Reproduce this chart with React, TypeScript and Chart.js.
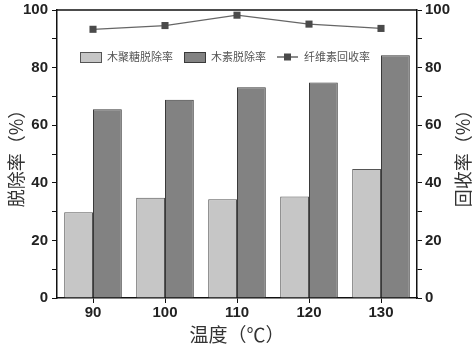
import React, { useEffect, useRef } from "react";
import { Chart, registerables } from "chart.js";

Chart.register(...registerables);

const categories = ["90", "100", "110", "120", "130"];
const xylanRemoval = [29.8, 34.8, 34.3, 35.2, 44.8];
const ligninRemoval = [65.5, 68.8, 73.2, 74.8, 84.3];
const celluloseRecovery = [93.3, 94.6, 98.2, 95.1, 93.6];
const seriesLabels = ["木聚糖脱除率", "木素脱除率", "纤维素回收率"];
const leftTitle = "脱除率（%）";
const rightTitle = "回收率（%）";
const xTitle = "温度（℃）";

const CJK = '"Noto Sans CJK SC", sans-serif';
const NUM = '"Liberation Sans", Arial, sans-serif';

const framePlugin = {
  id: "frame",
  afterDraw(chart: any) {
    const { ctx, chartArea } = chart;
    ctx.save();
    ctx.strokeStyle = "#111";
    ctx.lineWidth = 1.5;
    ctx.beginPath();
    ctx.moveTo(chartArea.left, chartArea.top);
    ctx.lineTo(chartArea.right, chartArea.top);
    ctx.stroke();
    // right title, reading bottom to top
    ctx.fillStyle = "#333";
    ctx.font = `18px ${CJK}`;
    ctx.textAlign = "center";
    ctx.textBaseline = "middle";
    ctx.translate(463, (chartArea.top + chartArea.bottom) / 2);
    ctx.rotate(-Math.PI / 2);
    ctx.fillText(rightTitle, 0, 0);
    ctx.restore();

    // legend inside chart area
    ctx.save();
    const ds = chart.data.datasets;
    const y = chartArea.top + 47;
    ctx.font = `11px ${CJK}`;
    ctx.textBaseline = "middle";
    ctx.textAlign = "left";
    let x = chartArea.left + 23;
    for (let i = 0; i < 3; i++) {
      const d = ds[i];
      if (d.type === "line") {
        ctx.strokeStyle = d.borderColor;
        ctx.lineWidth = 1.5;
        ctx.beginPath();
        ctx.moveTo(x, y);
        ctx.lineTo(x + 21, y);
        ctx.stroke();
        ctx.fillStyle = d.pointBackgroundColor;
        ctx.fillRect(x + 10.5 - 3.5, y - 3.5, 7, 7);
      } else {
        ctx.fillStyle = d.backgroundColor;
        ctx.fillRect(x, y - 5, 21, 10);
        ctx.strokeStyle = d.borderColor;
        ctx.lineWidth = 1;
        ctx.strokeRect(x + 0.5, y - 5 + 0.5, 21, 10);
      }
      ctx.fillStyle = "#555";
      ctx.fillText(d.label, x + 27, y);
      x += 27 + ctx.measureText(d.label).width + 11;
    }
    ctx.restore();
  },
};

export default function App() {
  const ref = useRef<HTMLCanvasElement>(null);
  useEffect(() => {
    document.body.style.margin = "0";
    const tickCallback = (v: any) => (Number(v) % 20 === 0 ? String(v) : "");
    const tickFont = { family: NUM, size: 15, weight: "bold" };
    const chart = new Chart(ref.current!, {
      type: "bar",
      data: {
        labels: categories,
        datasets: [
          {
            type: "bar",
            label: seriesLabels[0],
            data: xylanRemoval,
            backgroundColor: "#c6c6c6",
            borderColor: "#555",
            borderWidth: 1,
            yAxisID: "y",
            order: 2,
          },
          {
            type: "bar",
            label: seriesLabels[1],
            data: ligninRemoval,
            backgroundColor: "#828282",
            borderColor: "#3a3a3a",
            borderWidth: 1,
            yAxisID: "y",
            order: 2,
          },
          {
            type: "line",
            label: seriesLabels[2],
            data: celluloseRecovery,
            borderColor: "#666",
            borderWidth: 1.2,
            pointStyle: "rect",
            pointRadius: 5,
            pointBackgroundColor: "#4a4a4a",
            pointBorderColor: "#4a4a4a",
            pointBorderWidth: 0,
            yAxisID: "y2",
            order: 1,
          } as any,
        ],
      },
      options: {
        animation: false,
        responsive: false,
        layout: { padding: { top: 10, left: 0, right: 0, bottom: 0 } },
        datasets: { bar: { categoryPercentage: 0.8, barPercentage: 1 } },
        plugins: { legend: { display: false }, tooltip: { enabled: false } },
        scales: {
          x: {
            offset: true,
            grid: { drawOnChartArea: false, drawTicks: true, tickLength: 5, color: "#111", offset: false },
            border: { display: true, color: "#111", width: 1.5 },
            ticks: { color: "#222", font: tickFont, padding: 1 },
            title: { display: true, text: xTitle, color: "#333", font: { family: CJK, size: 19 }, padding: { top: 2, bottom: 5 } },
            afterFit(s: any) { s.height = 53; s.paddingLeft = 0; s.paddingRight = 0; },
          },
          y: {
            position: "left",
            min: 0,
            max: 100,
            ticks: { stepSize: 10, callback: tickCallback, color: "#222", font: tickFont, padding: 4, autoSkip: false },
            grid: { drawOnChartArea: false, drawTicks: true, tickLength: 5, color: "#111" },
            border: { display: true, color: "#111", width: 1.5 },
            title: { display: true, text: leftTitle, color: "#333", font: { family: CJK, size: 18 }, padding: { top: 5, bottom: 0 } },
            afterFit(s: any) { s.width = 57; s.paddingTop = 0; s.paddingBottom = 0; },
          },
          y2: {
            position: "right",
            min: 0,
            max: 100,
            ticks: { stepSize: 10, callback: tickCallback, color: "#222", font: tickFont, padding: 3, autoSkip: false },
            grid: { drawOnChartArea: false, drawTicks: true, tickLength: 5, color: "#111" },
            border: { display: true, color: "#111", width: 1.5 },
            afterFit(s: any) { s.width = 57; s.paddingTop = 0; s.paddingBottom = 0; },
          },
        },
      },
      plugins: [framePlugin],
    } as any);
    return () => chart.destroy();
  }, []);
  return (
    <div style={{ position: "fixed", left: 0, top: 0, width: 474, height: 351, background: "#fff" }}>
      <canvas ref={ref} width={474} height={351} style={{ width: 474, height: 351 }} />
    </div>
  );
}
